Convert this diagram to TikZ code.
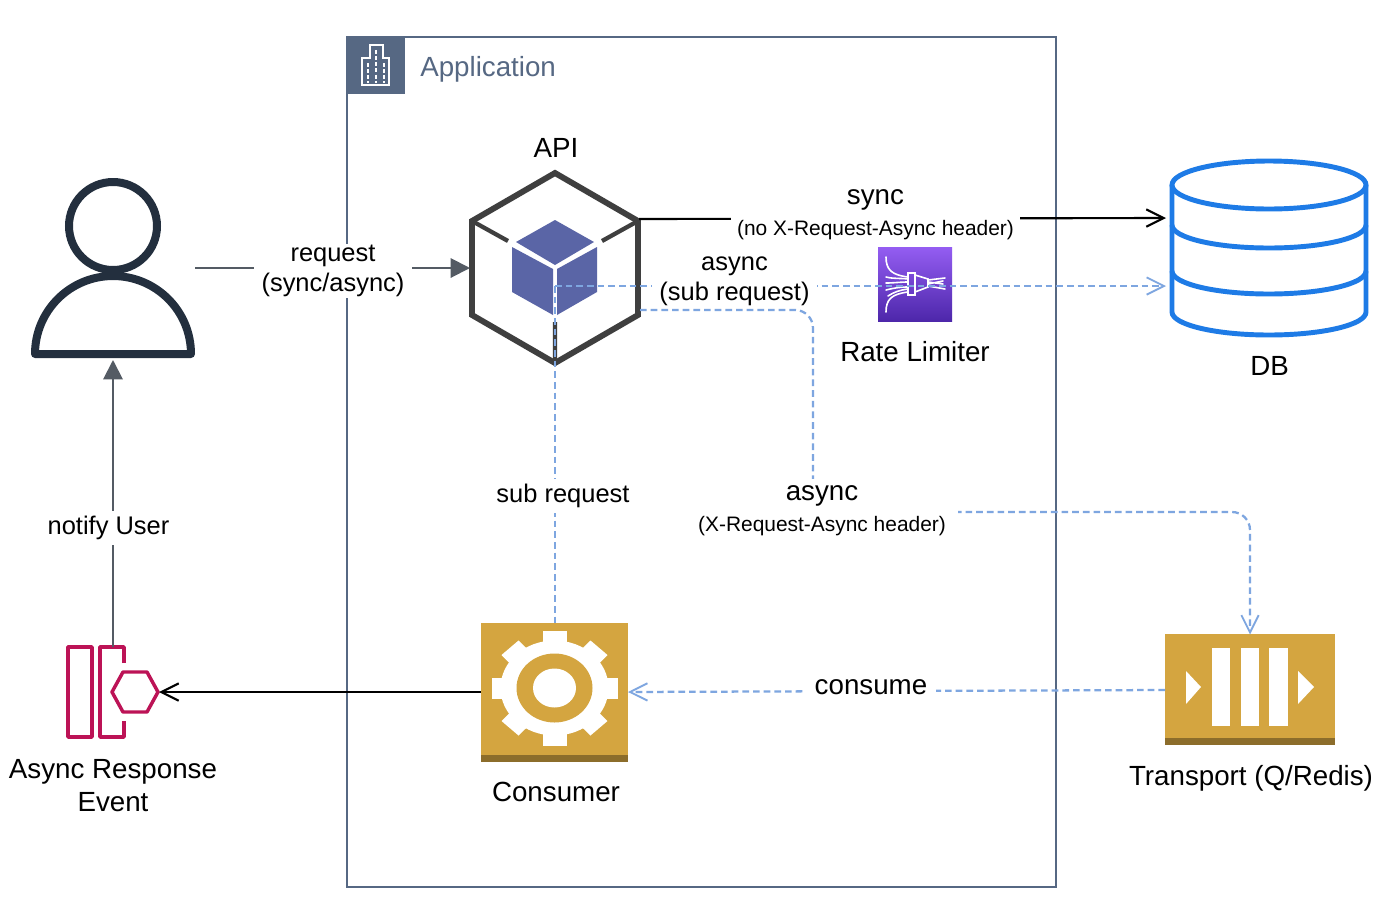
\documentclass[tikz,border=0pt]{standalone}
\usepackage{fontspec}
\setmainfont{Liberation Sans}
\usetikzlibrary{arrows.meta}
\definecolor{framecol}{HTML}{566883}
\definecolor{greyline}{HTML}{545B64}
\definecolor{dashblue}{HTML}{7EA6E0}
\definecolor{dbblue}{HTML}{1E7BE6}
\definecolor{apidark}{HTML}{3F3F3F}
\definecolor{apicube}{HTML}{5A65A6}
\definecolor{gold}{HTML}{D4A540}
\definecolor{golddark}{HTML}{8C6D2B}
\definecolor{userdark}{HTML}{232F3E}
\definecolor{eventred}{HTML}{BC1356}
\definecolor{limtop}{HTML}{945DF2}
\definecolor{limbot}{HTML}{4D27AA}
\newcommand{\fmain}{\fontsize{20.8pt}{22.5pt}\selectfont}
\newcommand{\fmid}{\fontsize{19.1pt}{22.5pt}\selectfont}
\newcommand{\fsmall}{\fontsize{15.7pt}{22.5pt}\selectfont}
\tikzset{
  iconbox/.style 2 args={minimum width=#1*0.75pt, minimum height=#2*0.75pt, inner sep=0pt, outer sep=0pt},
  caption/.style={inner sep=0pt, align=center, font=\fmain},
  linklabel/.style={fill=white, inner xsep=5.5pt, inner ysep=0.5pt, align=center},
  solidlink/.style={line width=1.6pt, -{Straight Barb[length=13pt,width=13pt,line width=1.6pt]}},
  dashlink/.style={draw=dashblue, line width=1.7pt, dash pattern=on 5pt off 3pt},
  dashtip/.style={-{Straight Barb[length=13pt,width=13pt,line width=1.4pt]}},
  greylink/.style={draw=greyline, line width=1.5pt, -{Triangle[length=14.5pt,width=14.5pt]}, color=greyline},
  dbline/.style={draw=dbblue, line width=3.7pt},
}
\begin{document}
\begin{tikzpicture}[x=0.75pt,y=-0.75pt]
\useasboundingbox (0,0) rectangle (1400,922);
\fill[white] (0,0) rectangle (1400,922);

% frame
\draw[framecol, line width=1.9pt] (347,37) rectangle (1056,887);
\fill[framecol] (346,36) rectangle (405,94);
\begin{scope}[white, line width=1pt]
  \draw (362,85) -- (362,58) -- (370,58) -- (370,45) -- (383,45) -- (383,58) -- (389,58) -- (389,85) -- cycle;
  \draw[dash pattern=on 3pt off 1.6pt] (368,63) -- (368,83);
  \draw[dash pattern=on 3pt off 1.6pt] (376,50) -- (376,83);
  \draw[dash pattern=on 3pt off 1.6pt] (384,63) -- (384,83);
\end{scope}
\node[anchor=west, inner sep=0pt, text=framecol, font=\fmain] (apptitle) at (420,69) {Application};

% icon boxes
\node[iconbox={164}{184}] (user) at (113,268) {};
\node[iconbox={170}{192}] (api) at (555,268) {};
\node[iconbox={200}{180}] (db) at (1269,248) {};
\node[iconbox={74}{74}] (limiter) at (915,284) {};
\node[iconbox={147}{139}] (consumer) at (554.5,692) {};
\node[iconbox={170}{111}] (transport) at (1250,690) {};
\node[iconbox={92}{90}] (event) at (113,692) {};

% user
\begin{scope}[userdark, line width=6pt]
  \draw (113,226) circle [x radius=44, y radius=44];
  \draw[line join=round] (35,354) arc[start angle=180, end angle=360, x radius=78, y radius=78] -- cycle;
\end{scope}

% API
\draw[apidark, line width=4.4pt, line join=miter] (555,173) -- (638,221) -- (638,315) -- (555,363) -- (472,315) -- (472,221) -- cycle;
\draw[apidark, line width=3.2pt] (472,221) -- (508,241) (638,221) -- (602,241) (555,322) -- (555,363);
\fill[apicube] (516,242) -- (555,220) -- (594,242) -- (555,265) -- cycle;
\fill[apicube] (512,247) -- (553,269) -- (553,315) -- (512,292) -- cycle;
\fill[apicube] (557,269) -- (597,247) -- (597,292) -- (557,315) -- cycle;

% DB
\draw[dbline] (1269,185) ellipse [x radius=97, y radius=24];
\draw[dbline] (1172,185) -- (1172,312) arc[start angle=180, end angle=0, x radius=97, y radius=23] -- (1366,185);
\draw[dbline] (1172,225) arc[start angle=180, end angle=0, x radius=97, y radius=23];
\draw[dbline] (1172,271) arc[start angle=180, end angle=0, x radius=97, y radius=23];

% rate limiter
\shade[top color=limtop, bottom color=limbot] (878,247) rectangle (952,321);
\begin{scope}[white, line width=1.2pt, line cap=round]
  \draw (886,257) .. controls (886,270) and (892,275) .. (908,277);
  \draw (886,312) .. controls (886,299) and (892,294) .. (908,292);
  \draw (886,277) .. controls (894,279) and (900,278) .. (908,279);
  \draw (886,283) .. controls (894,283) and (900,282) .. (908,282);
  \draw (886,290) .. controls (894,288) and (900,287) .. (908,287);
  \draw (888,296) .. controls (894,292) and (900,290) .. (908,289);
  \draw (908,273) rectangle (915,295);
  \draw (915,275) -- (928,279) -- (928,287) -- (915,292);
  \draw (928,280) -- (945,278) (928,282) -- (943,284) (928,284) -- (943,281) (928,286) -- (945,289);
\end{scope}

% consumer
\fill[gold] (481,623) rectangle (628,762);
\fill[golddark] (481,755) rectangle (628,762);
\begin{scope}[shift={(554.5,688)}]
  \fill[white] (0,0) circle [x radius=54, y radius=47.5];
  \fill[white] (-12,-57.5) rectangle (12,57.5);
  \fill[white] (-63,-10.5) rectangle (63,10.5);
  \foreach \sx in {-1,1} \foreach \sy in {-1,1}
    \fill[white] (\sx*36,\sy*47.5) -- (\sx*53,\sy*33) -- (\sx*40,\sy*20) -- (\sx*22,\sy*34) -- cycle;
  \fill[gold] (0,0) circle [x radius=38, y radius=34.5];
  \fill[white] (0,0) circle [x radius=21.5, y radius=19.5];
\end{scope}

% transport
\fill[gold] (1165,634) rectangle (1335,745);
\fill[golddark] (1165,738) rectangle (1335,745);
\fill[white] (1212,648) rectangle (1230,726);
\fill[white] (1241,648) rectangle (1259,726);
\fill[white] (1269,648) rectangle (1288,726);
\fill[white] (1186,671) -- (1201,687) -- (1186,704) -- cycle;
\fill[white] (1298,671) -- (1314,687) -- (1298,704) -- cycle;

% event
\begin{scope}[eventred, line width=2.6pt, line join=round]
  \draw (68,647) rectangle (92,737);
  \draw (124,663) -- (124,647) -- (100,647) -- (100,737) -- (124,737) -- (124,721);
  \draw (112,692) -- (123,672) -- (147,672) -- (158,692) -- (147,712) -- (123,712) -- cycle;
\end{scope}

% named connector points
\coordinate (syncStart) at (639,219);
\coordinate (syncEnd) at (1166,218);
\coordinate (hubA) at (555,286);
\coordinate (asyncEnd) at (1166,286);
\coordinate (xStart) at (640,310);
\coordinate (xBendA) at (813,310);
\coordinate (xBendB) at (813,512);
\coordinate (xBendC) at (1250,512);

% connectors
\draw[greylink] (user.east) -- (api.west);
\draw[solidlink] (syncStart) -- (syncEnd);
\draw[dashlink, dashtip] (hubA) -- (asyncEnd);
\draw[dashlink] (hubA) -- (consumer.north -| hubA);
\draw[dashlink, dashtip, rounded corners=13.5pt] (xStart) -- (xBendA) -- (xBendB) -- (xBendC) -- (transport.north);
\draw[dashlink, dashtip] (transport.west) -- (consumer.east);
\draw[solidlink] (consumer.west) -- (event.east);
\draw[greylink] (event.north) -- (user.south);

% labels
\node[linklabel, font=\fmid] (reqlabel) at (333,271) {request\\(sync/async)};
\node[linklabel, font=\fmain, inner xsep=4.5pt] (synclabel) at (875.5,215) {sync\\[1pt]{\fsmall (no X-Request-Async header)}};
\node[linklabel, font=\fmid, inner ysep=0pt] (asynclabel) at (734.5,281) {async\\(sub request)};
\node[linklabel, font=\fmid, inner ysep=4pt] (sublabel) at (563,496) {sub request};
\node[linklabel, font=\fmain, inner xsep=9pt, inner ysep=5pt] (xlabel) at (822,511) {async\\[1pt]{\fsmall (X-Request-Async header)}};
\node[linklabel, font=\fmain, inner xsep=6.5pt] (conslabel) at (871,687) {consume};
\node[linklabel, font=\fmid, inner ysep=4pt] (notifylabel) at (108.5,528) {notify User};

% captions
\node[caption] (apicap) at (556,148) {API};
\node[caption] (limitcap) at (915,352) {Rate Limiter};
\node[caption] (dbcap) at (1269.5,366) {DB};
\node[caption] (conscap) at (556,792) {Consumer};
\node[caption] (transcap) at (1251,778) {Transport (Q/Redis)};
\node[caption, font=\fontsize{20.8pt}{24.7pt}\selectfont] (eventcap) at (113,786) {Async Response\\Event};
\end{tikzpicture}
\end{document}
